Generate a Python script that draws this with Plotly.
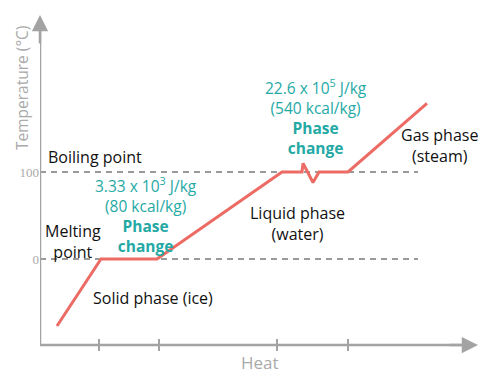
import plotly.graph_objects as go

# Heating curve of water (heat in arbitrary units, temperature in °C)
heat = [17, 61, 117, 242, 262, 263, 273, 279, 308, 387]
temperature = [-77, 0, 0, 100, 100, 110, 88, 100, 100, 179]

reference_temps = [0, 100]          # melting / boiling point
ref_line_end = 378                  # extent of dashed lines (heat units)
heat_ticks = [59, 119, 237, 308]
temp_tick_vals = [0, 100]
temp_tick_text = ["0", "100"]

RED = "#ec6b64"
TEAL = "#25a9a5"
GRAY = "#a3a3a3"
BLACK = "#111111"
FONT = "Open Sans"

X_RANGE = [0, 440]
Y_RANGE = [-98.85, 280.46]

# page body has an 8px margin -> plot area spans x 40..480, y 15..345 on screen
OFF = 8
PL, PT, PW, PH = 40, 15, 440, 330

fig = go.Figure()

# dashed reference lines
for t in reference_temps:
    fig.add_trace(go.Scatter(
        x=[0, ref_line_end], y=[t, t], mode="lines",
        line=dict(color="#9a9a9a", width=2, dash="6px,5px"),
        hoverinfo="skip", showlegend=False))

# heating curve
fig.add_trace(go.Scatter(
    x=heat, y=temperature, mode="lines",
    line=dict(color=RED, width=3), hoverinfo="skip", showlegend=False))

shapes = []
# axis lines
shapes.append(dict(type="line", xref="x", yref="paper", x0=0, x1=0, y0=0, y1=0.97,
                   line=dict(color=GRAY, width=2.5)))
shapes.append(dict(type="line", xref="x", yref="paper", x0=0, x1=430, y0=0, y1=0,
                   line=dict(color=GRAY, width=2.5)))
# x ticks crossing the axis
for h in heat_ticks:
    shapes.append(dict(type="line", xref="x", yref="paper", x0=h, x1=h,
                       y0=-0.018, y1=0.018, line=dict(color=GRAY, width=2)))

annotations = []
# arrow heads
annotations.append(dict(x=0, y=1.0, xref="x", yref="paper", ax=0, ay=30,
                        axref="pixel", ayref="pixel", showarrow=True, arrowhead=2,
                        arrowsize=1.3, arrowwidth=2.5, arrowcolor=GRAY, text=""))
annotations.append(dict(x=438, y=0, xref="x", yref="paper", ax=-30, ay=0,
                        axref="pixel", ayref="pixel", showarrow=True, arrowhead=2,
                        arrowsize=1.3, arrowwidth=2.5, arrowcolor=GRAY, text=""))


def px2t(py):
    return (259 - py) / 0.87


def label(text, px, py, color=BLACK, size=16):
    annotations.append(dict(
        x=px - 40, y=px2t(py), xref="x", yref="y", showarrow=False,
        text=text, align="center",
        font=dict(family=FONT, size=size, color=color),
        xanchor="center", yanchor="middle"))


label("Boiling point", 95, 157)
label("Melting<br>point", 73, 241)
label("Solid phase (ice)", 153, 298)
label("Liquid phase<br>(water)", 297, 223.5)
label("Gas phase<br>(steam)", 439, 145.5)

label("3.33 x 10<sup>3</sup> J/kg<br>(80 kcal/kg)<br><b>Phase</b><br><b>change</b>",
      146, 214.5, TEAL, 15.5)
label("22.6 x 10<sup>5</sup> J/kg<br>(540 kcal/kg)<br><b>Phase</b><br><b>change</b>",
      316, 117, TEAL, 15.5)

# axis titles (paper coordinates)
annotations.append(dict(x=(22 - PL) / PW, y=(PT + PH - 88) / PH, xref="paper", yref="paper",
                        showarrow=False, text="Temperature (°C)", textangle=-90,
                        font=dict(family=FONT, size=15.5, color="#aaaaaa"),
                        xanchor="center", yanchor="middle"))
annotations.append(dict(x=(260 - PL) / PW, y=(PT + PH - 363) / PH, xref="paper", yref="paper",
                        showarrow=False, text="Heat",
                        font=dict(family=FONT, size=17, color="#aaaaaa"),
                        xanchor="center", yanchor="middle"))

fig.update_layout(
    width=490 - OFF, height=379 - OFF,
    margin=dict(l=PL - OFF, r=490 - PL - PW, t=PT - OFF, b=379 - PT - PH, autoexpand=False),
    paper_bgcolor="white", plot_bgcolor="white",
    shapes=shapes, annotations=annotations,
    xaxis=dict(range=X_RANGE, visible=False, fixedrange=True),
    yaxis=dict(range=Y_RANGE, showgrid=False, zeroline=False, showline=False,
               tickmode="array", tickvals=temp_tick_vals, ticktext=temp_tick_text,
               ticks="", tickfont=dict(family="Liberation Serif", size=13, color="#aaaaaa"),
               fixedrange=True),
    showlegend=False,
)

fig.write_html("out.html")
